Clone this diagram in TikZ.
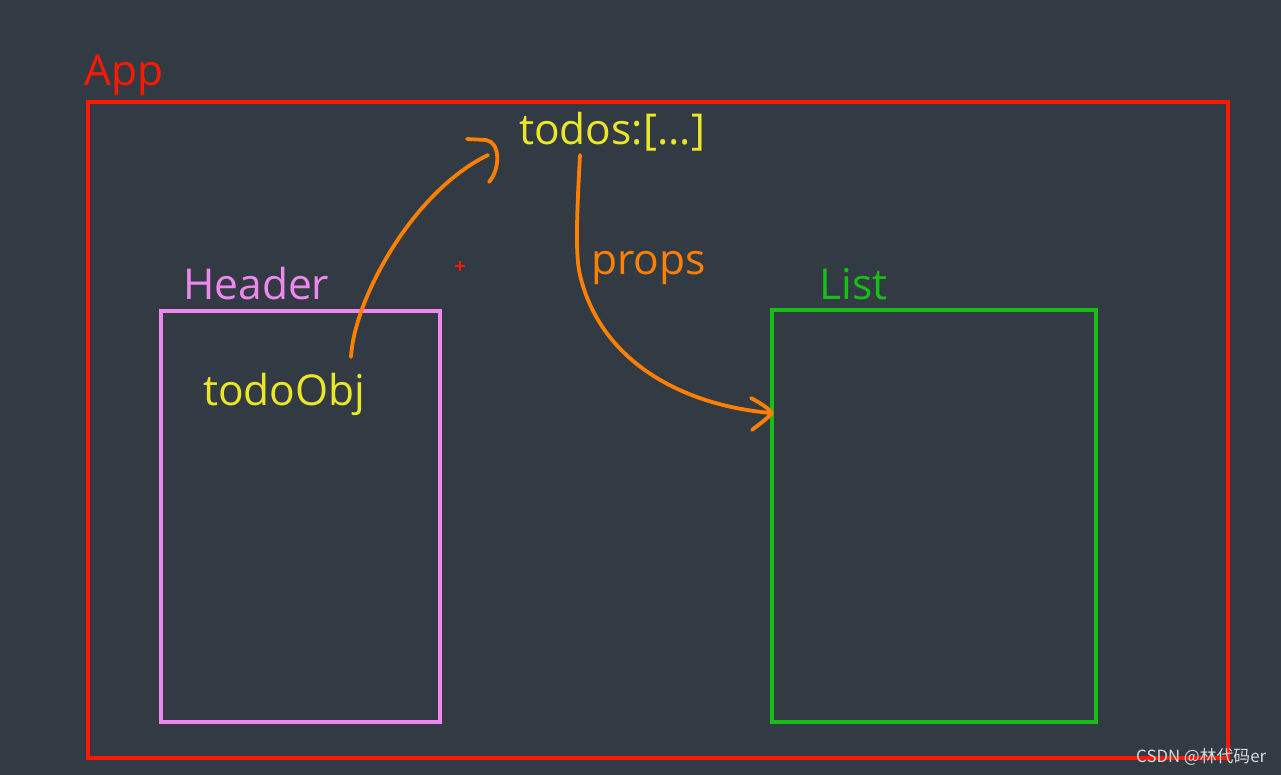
\documentclass[tikz,border=0pt]{standalone}
\usepackage{fontspec}
\setmainfont{Open Sans}
\newfontfamily\cjkfont{Noto Sans CJK SC}
\definecolor{bgc}{RGB}{50,59,68}
\definecolor{appred}{RGB}{255,24,0}
\definecolor{hdrpink}{RGB}{238,136,238}
\definecolor{lstgreen}{RGB}{22,190,22}
\definecolor{txtyellow}{RGB}{236,230,40}
\definecolor{arrorange}{RGB}{255,128,0}
\definecolor{wmgray}{RGB}{215,218,222}
\begin{document}
\begin{tikzpicture}[x=1pt,y=-1pt,
  lbl/.style={anchor=base west,inner sep=0pt,font=\fontsize{42.5}{48}\selectfont},
  boxline/.style={line width=4pt},
  orangeline/.style={draw=arrorange,line width=3.8pt,line cap=round,line join=round}]
\fill[bgc] (0,0) rectangle (1281,775);
\useasboundingbox (0,0) rectangle (1281,775);
% boxes
\draw[boxline,appred] (88,102) rectangle (1228,758);
\draw[boxline,hdrpink] (161,311) rectangle (440,722);
\draw[boxline,lstgreen] (772,310) rectangle (1096,722);
% labels
\node[lbl,text=appred] (app) at (84,86) {App};
\node[lbl,text=txtyellow] (todos) at (519,145) {todos:[...]};
\node[lbl,text=hdrpink] (header) at (183,299) {Header};
\node[lbl,text=txtyellow] (todoobj) at (203,405) {todoObj};
\node[lbl,text=arrorange] (props) at (591,275) {props};
\node[lbl,text=lstgreen] (list) at (819,299) {List};
% red cursor plus
\draw[appred,line width=1.2pt] (455,266) -- (465,266) (460,261) -- (460,271);
% connectors
\coordinate (s1) at (351,357);
\coordinate (e1) at (488,155);
\draw[orangeline] (s1) .. controls (354,300) and (412,192) .. (e1);
\draw[orangeline] (467,139) -- (486,140) .. controls (500,142) and (501,168) .. (489,182);
\coordinate (s2) at (580,155);
\coordinate (m2) at (580,275);
\coordinate (e2) at (771,413);
\draw[orangeline] (s2) .. controls (577,210) and (575,255) .. (m2) .. controls (600,360) and (680,405) .. (e2);
\draw[orangeline] (751,398) .. controls (762,404) and (768,408) .. (772,413) .. controls (766,420) and (758,425) .. (752,430);
% watermark
\node[anchor=base west,inner sep=0pt,text=wmgray,font=\cjkfont\fontsize{16.8}{18}\selectfont] (wm) at (1136,762) {CSDN @林代码er};
\end{tikzpicture}
\end{document}
